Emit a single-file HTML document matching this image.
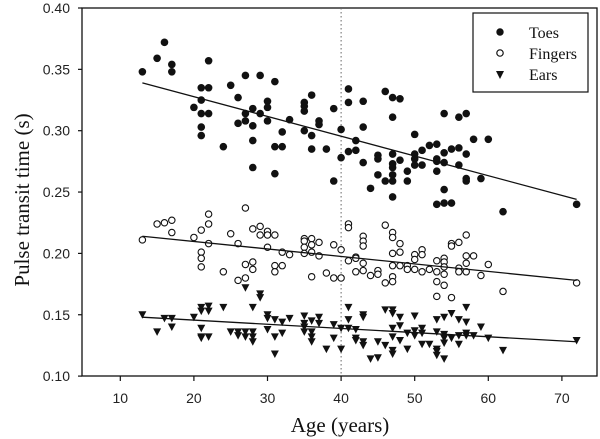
<!DOCTYPE html>
<html><head><meta charset="utf-8"><style>
html,body{margin:0;padding:0;background:#fff;}
svg{display:block;}
.tk{font-family:"Liberation Sans",sans-serif;font-size:14px;fill:#222;}
.sr{font-family:"Liberation Serif",serif;fill:#111;}
</style></head><body>
<svg id="chart" width="600" height="439" viewBox="0 0 600 439">
<rect x="82" y="8" width="515" height="368" fill="none" stroke="#111" stroke-width="1.3"/>
<g id="axes"></g>
<g id="marks"></g>
<text class="sr" x="340" y="432" font-size="21" text-anchor="middle">Age (years)</text>
<text class="sr" transform="translate(29,200) rotate(-90)" font-size="21" text-anchor="middle">Pulse transit time (s)</text>
<g>
<rect x="473" y="13" width="115" height="79" fill="#fff" stroke="#111" stroke-width="1.2"/>
<circle cx="500" cy="32" r="3.7" fill="#111"/>
<text class="sr" x="529" y="38" font-size="16">Toes</text>
<circle cx="500" cy="53" r="3.2" fill="#fff" stroke="#111" stroke-width="1.2"/>
<text class="sr" x="529" y="59" font-size="16">Fingers</text>
<path d="M496,71 L504,71 L500,79 Z" fill="#111"/>
<text class="sr" x="529" y="80" font-size="16">Ears</text>
</g>
</svg>
<script>
const xTicks=[10,20,30,40,50,60,70];
const yTicks=[0.10,0.15,0.20,0.25,0.30,0.35,0.40];
const toesAge=[13,15,16,17,17,20,21,21,21,21,21,22,22,22,24,25,26,26,27,27,27,28,28,28,28,29,29,30,30,30,31,31,31,32,32,33,35,35,35,35,36,36,36,37,37,38,39,39,40,40,41,41,41,42,42,43,43,43,44,45,45,45,46,46,47,47,47,47,47,47,47,47,48,48,49,49,50,50,50,50,51,51,52,53,53,53,53,53,54,54,54,54,54,55,55,56,56,56,57,57,57,57,58,59,60,62,72];
const toesVal=[0.348,0.359,0.372,0.354,0.348,0.319,0.335,0.325,0.314,0.303,0.296,0.357,0.335,0.314,0.287,0.337,0.327,0.306,0.345,0.314,0.308,0.318,0.304,0.292,0.270,0.345,0.314,0.324,0.319,0.308,0.340,0.287,0.265,0.299,0.287,0.309,0.323,0.320,0.316,0.300,0.329,0.296,0.285,0.308,0.305,0.285,0.318,0.259,0.301,0.278,0.334,0.323,0.283,0.292,0.284,0.324,0.303,0.274,0.253,0.280,0.277,0.264,0.332,0.259,0.327,0.311,0.281,0.273,0.270,0.264,0.259,0.246,0.326,0.276,0.267,0.259,0.297,0.281,0.277,0.272,0.284,0.272,0.288,0.289,0.277,0.275,0.267,0.240,0.314,0.282,0.274,0.252,0.241,0.285,0.241,0.311,0.286,0.272,0.314,0.281,0.261,0.259,0.293,0.261,0.293,0.234,0.240];
const fingAge=[13,15,16,17,17,20,21,21,21,21,22,22,22,24,25,26,26,27,27,27,28,28,28,29,29,30,30,30,31,31,31,32,32,33,35,35,35,35,36,36,36,36,37,37,38,39,39,40,40,41,41,41,42,42,42,43,43,43,43,43,44,45,45,46,46,47,47,47,47,47,47,48,48,48,49,49,50,50,50,51,51,51,52,53,53,53,53,54,54,54,54,54,55,55,55,56,56,56,57,57,57,57,58,59,60,62,72];
const fingVal=[0.211,0.224,0.225,0.227,0.217,0.213,0.219,0.201,0.196,0.189,0.232,0.224,0.208,0.185,0.216,0.208,0.178,0.237,0.191,0.180,0.220,0.193,0.187,0.222,0.215,0.218,0.215,0.205,0.215,0.190,0.185,0.201,0.190,0.199,0.212,0.210,0.205,0.200,0.212,0.207,0.201,0.181,0.209,0.198,0.184,0.207,0.180,0.203,0.180,0.224,0.221,0.194,0.197,0.196,0.185,0.214,0.210,0.206,0.192,0.186,0.182,0.186,0.183,0.223,0.176,0.217,0.213,0.200,0.190,0.181,0.177,0.208,0.201,0.190,0.190,0.187,0.199,0.195,0.187,0.203,0.199,0.185,0.187,0.194,0.185,0.177,0.165,0.196,0.193,0.189,0.183,0.174,0.208,0.206,0.164,0.209,0.188,0.185,0.215,0.198,0.192,0.185,0.198,0.182,0.191,0.169,0.176];
const earsAge=[13,15,16,17,17,20,21,21,21,21,21,22,22,22,24,25,26,26,27,27,27,28,28,28,28,29,29,30,30,30,31,31,31,32,32,33,35,35,35,35,36,36,36,36,37,37,38,39,39,40,40,41,41,41,42,42,42,43,43,43,43,44,45,45,46,46,47,47,47,47,47,47,48,48,48,49,49,50,50,50,51,51,51,52,53,53,53,53,53,54,54,54,54,54,55,55,56,56,56,57,57,57,57,58,59,60,62,72];
const earsVal=[0.150,0.136,0.147,0.147,0.140,0.148,0.156,0.153,0.139,0.132,0.131,0.157,0.153,0.132,0.156,0.136,0.136,0.133,0.172,0.136,0.132,0.156,0.136,0.132,0.128,0.167,0.164,0.150,0.147,0.138,0.146,0.132,0.118,0.144,0.135,0.147,0.149,0.143,0.140,0.136,0.145,0.136,0.132,0.128,0.148,0.143,0.122,0.142,0.131,0.139,0.122,0.156,0.146,0.139,0.138,0.131,0.129,0.150,0.148,0.128,0.125,0.114,0.128,0.115,0.154,0.125,0.154,0.151,0.139,0.132,0.121,0.118,0.148,0.141,0.129,0.135,0.122,0.149,0.137,0.133,0.139,0.135,0.126,0.126,0.146,0.136,0.122,0.120,0.117,0.148,0.134,0.131,0.127,0.114,0.151,0.131,0.146,0.133,0.126,0.156,0.144,0.135,0.133,0.133,0.140,0.131,0.121,0.129];
const fitAge=[13,72];
const toesFit=[0.339,0.244];
const fingFit=[0.214,0.178];
const earsFit=[0.148,0.128];
const refAge=40;

const NS='http://www.w3.org/2000/svg';
function xs(a){return 120.3+(a-10)*7.36;}
function ys(v){return 8+(0.40-v)*1227;}
function mk(tag,attrs,parent){const e=document.createElementNS(NS,tag);for(const k in attrs)e.setAttribute(k,attrs[k]);parent.appendChild(e);return e;}
const axes=document.getElementById('axes'),marks=document.getElementById('marks');
xTicks.forEach(t=>{
  const l=mk('line',{x1:xs(t),x2:xs(t),y1:376,y2:381,stroke:'#111','stroke-width':1.2},axes);
  
  
  const tx=mk('text',{x:xs(t),y:403,'text-anchor':'middle',class:'tk'},axes);tx.textContent=t;
  
  
});
yTicks.forEach(t=>{
  const l=mk('line',{x1:78,x2:82,y1:ys(t),y2:ys(t),stroke:'#111','stroke-width':1.2},axes);
  
  
  const tx=mk('text',{x:70,y:ys(t)+5,'text-anchor':'end',class:'tk'},axes);tx.textContent=t.toFixed(2);
  
  
});
const ref=mk('line',{x1:xs(refAge),x2:xs(refAge),y1:8,y2:376,stroke:'#666','stroke-width':1,'stroke-dasharray':'1.5,2.5'},marks);


toesAge.forEach((a,i)=>{
  const c=mk('circle',{cx:xs(a),cy:ys(toesVal[i]),r:3.8,fill:'#111'},marks);
  
  
});
fingAge.forEach((a,i)=>{
  const c=mk('circle',{cx:xs(a),cy:ys(fingVal[i]),r:3.2,fill:'#fff',stroke:'#111','stroke-width':1.1},marks);
  
  
});
earsAge.forEach((a,i)=>{
  const x=xs(a),y=ys(earsVal[i]);
  const p=mk('path',{d:`M${x-4},${y-3.5} L${x+4},${y-3.5} L${x},${y+4} Z`,fill:'#111'},marks);
  
  
});
[[toesFit,'toes-fit-line'],[fingFit,'fingers-fit-line'],[earsFit,'ears-fit-line']].forEach(([f,n])=>{
  const l=mk('line',{x1:xs(fitAge[0]),y1:ys(f[0]),x2:xs(fitAge[1]),y2:ys(f[1]),stroke:'#111','stroke-width':1.3},marks);
  
  
});
</script>
</body></html>
